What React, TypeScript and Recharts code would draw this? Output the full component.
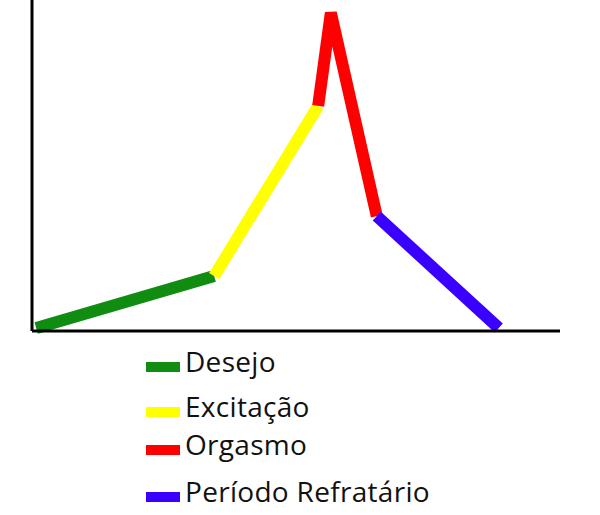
import React from "react";
import { LineChart, Line, XAxis, YAxis } from "recharts";

// fases da resposta sexual (escala 0-100)
const phases = ["Desejo", "Excitação", "Orgasmo", "Período Refratário"];
const desejoX = [0.8, 34.5];
const desejoY = [0.9, 16.6];
const excitacaoX = [34.5, 54.2];
const excitacaoY = [16.6, 68.0];
const orgasmoX = [54.2, 56.6, 65.3];
const orgasmoY = [68.0, 96.1, 34.7];
const refratarioX = [65.3, 88.4];
const refratarioY = [34.7, 0.9];

const colors = ["#108c10", "#ffff00", "#ff0000", "#3a00ff"];

const toPoints = (xs: number[], ys: number[]) => xs.map((x, i) => ({ x, y: ys[i] }));

const series = [
  toPoints(desejoX, desejoY),
  toPoints(excitacaoX, excitacaoY),
  toPoints(orgasmoX, orgasmoY),
  toPoints(refratarioX, refratarioY),
];

// topo de cada linha da legenda
const legendTops = [346, 391, 429, 476];

export default function App() {
  return (
    <div style={{ position: "absolute", left: 0, top: 0, width: 600, height: 515, background: "#fff" }}>
      <LineChart width={600} height={340} margin={{ top: 0, right: 40, left: 31, bottom: 8 }}>
        <XAxis
          type="number"
          dataKey="x"
          domain={[0, 100]}
          tick={false}
          tickLine={false}
          height={1}
          axisLine={{ stroke: "#000", strokeWidth: 3 }}
        />
        <YAxis
          type="number"
          dataKey="y"
          domain={[0, 100]}
          tick={false}
          tickLine={false}
          width={1}
          axisLine={{ stroke: "#000", strokeWidth: 3 }}
        />
        {series.map((pts, i) => (
          <Line
            key={phases[i]}
            data={pts}
            dataKey="y"
            name={phases[i]}
            type="linear"
            stroke={colors[i]}
            strokeWidth={12}
            strokeLinecap="butt"
            strokeLinejoin="bevel"
            dot={false}
            activeDot={false}
            isAnimationActive={false}
          />
        ))}
      </LineChart>
      {phases.map((p, i) => (
        <div
          key={p}
          style={{
            position: "absolute",
            left: 146,
            top: legendTops[i],
            display: "flex",
            alignItems: "flex-end",
            fontFamily: "'Open Sans', sans-serif",
            fontSize: 28,
            letterSpacing: 0.3,
            lineHeight: "30px",
            color: "#111",
          }}
        >
          <span style={{ display: "inline-block", width: 34, height: 10, background: colors[i], marginBottom: 4, marginRight: 5 }} />
          <span>{p}</span>
        </div>
      ))}
    </div>
  );
}
